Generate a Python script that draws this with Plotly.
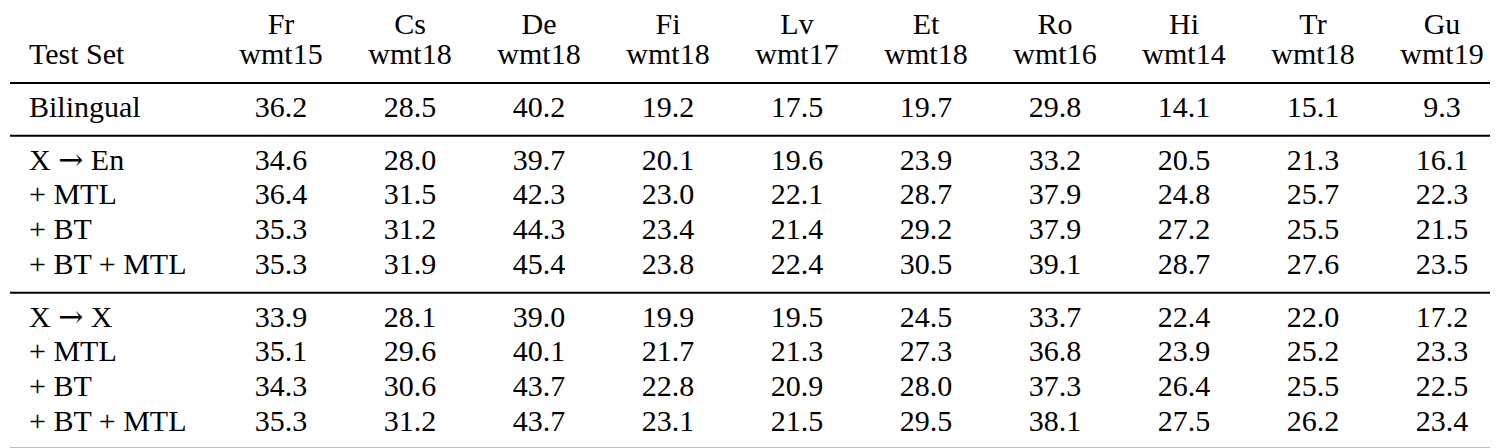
import plotly.graph_objects as go

# ---------------- data ----------------
languages = ["Fr", "Cs", "De", "Fi", "Lv", "Et", "Ro", "Hi", "Tr", "Gu"]
test_sets = ["wmt15", "wmt18", "wmt18", "wmt18", "wmt17", "wmt18", "wmt16", "wmt14", "wmt18", "wmt19"]
header_label = "Test Set"

ARROW = "<span style='font-family:DejaVu Serif'>\u2192</span>"

bilingual_labels = ["Bilingual"]
bilingual_values = [
    [36.2, 28.5, 40.2, 19.2, 17.5, 19.7, 29.8, 14.1, 15.1, 9.3],
]

x2en_labels = ["X " + ARROW + " En", "+ MTL", "+ BT", "+ BT + MTL"]
x2en_values = [
    [34.6, 28.0, 39.7, 20.1, 19.6, 23.9, 33.2, 20.5, 21.3, 16.1],
    [36.4, 31.5, 42.3, 23.0, 22.1, 28.7, 37.9, 24.8, 25.7, 22.3],
    [35.3, 31.2, 44.3, 23.4, 21.4, 29.2, 37.9, 27.2, 25.5, 21.5],
    [35.3, 31.9, 45.4, 23.8, 22.4, 30.5, 39.1, 28.7, 27.6, 23.5],
]

x2x_labels = ["X " + ARROW + " X", "+ MTL", "+ BT", "+ BT + MTL"]
x2x_values = [
    [33.9, 28.1, 39.0, 19.9, 19.5, 24.5, 33.7, 22.4, 22.0, 17.2],
    [35.1, 29.6, 40.1, 21.7, 21.3, 27.3, 36.8, 23.9, 25.2, 23.3],
    [34.3, 30.6, 43.7, 22.8, 20.9, 28.0, 37.3, 26.4, 25.5, 22.5],
    [35.3, 31.2, 43.7, 23.1, 21.5, 29.5, 38.1, 27.5, 26.2, 23.4],
]

sections = [
    (bilingual_labels, bilingual_values),
    (x2en_labels, x2en_values),
    (x2x_labels, x2x_values),
]

# ---------------- layout geometry ----------------
W, H = 1498, 448
FONT = dict(family="Liberation Serif", size=30, color="#000000")
GAP = 0.76          # space (in row units) between last row and a rule, and rule and next row
COL0_PX = 273       # pixel centre of first data column
COL_STEP_PX = 129   # pixel distance between columns
ROW0_PX = 14        # pixel centre reference (row index 0)
ROW_STEP_PX = 34.7  # pixel distance between rows
LABEL_LEFT_PX = 21
HEADER1_ROW = 0.14  # first header line (slightly lowered so it stays inside the page)

col_x = list(range(1, len(languages) + 1))
label_x = 1 + (LABEL_LEFT_PX - COL0_PX) / COL_STEP_PX

# compute row y positions
rules = []
rules_widths = []
row_y = []
cursor = 1.0    # second header line
for labels, _ in sections:
    cursor += GAP
    rules.append(cursor)
    rules_widths.append(2)
    cursor += GAP
    ys = [cursor + k for k in range(len(labels))]
    row_y.append(ys)
    cursor = ys[-1]
cursor += GAP
rules.append(cursor)
rules_widths.append(3.5)

fig = go.Figure()

# header
fig.add_trace(go.Scatter(x=col_x, y=[HEADER1_ROW] * len(col_x), mode="text", text=languages,
                         textposition="middle center", textfont=FONT, hoverinfo="skip"))
fig.add_trace(go.Scatter(x=col_x, y=[1] * len(col_x), mode="text", text=test_sets,
                         textposition="middle center", textfont=FONT, hoverinfo="skip"))
fig.add_trace(go.Scatter(x=[label_x], y=[1], mode="text", text=[header_label],
                         textposition="middle right", textfont=FONT, hoverinfo="skip"))

# body
for (labels, values), ys in zip(sections, row_y):
    fig.add_trace(go.Scatter(x=[label_x] * len(labels), y=ys, mode="text", text=labels,
                             textposition="middle right", textfont=FONT, hoverinfo="skip"))
    for vals, y in zip(values, ys):
        fig.add_trace(go.Scatter(x=col_x, y=[y] * len(vals), mode="text",
                                 text=[f"{v:.1f}" for v in vals],
                                 textposition="middle center", textfont=FONT, hoverinfo="skip"))

# rules
for y, w in zip(rules, rules_widths):
    fig.add_shape(type="line", xref="paper", yref="y", x0=0.0013, x1=0.9987, y0=y, y1=y,
                  line=dict(color="#000000", width=w))

x_lo = 1 - COL0_PX / COL_STEP_PX
x_hi = 1 + (W - COL0_PX) / COL_STEP_PX
y_top = -ROW0_PX / ROW_STEP_PX
y_bot = (H - ROW0_PX) / ROW_STEP_PX

fig.update_layout(
    width=W, height=H,
    margin=dict(l=0, r=0, t=0, b=0),
    paper_bgcolor="white", plot_bgcolor="white",
    showlegend=False,
    xaxis=dict(range=[x_lo, x_hi], visible=False, fixedrange=True),
    yaxis=dict(range=[y_bot, y_top], visible=False, fixedrange=True),
)

fig.write_html("out.html")
